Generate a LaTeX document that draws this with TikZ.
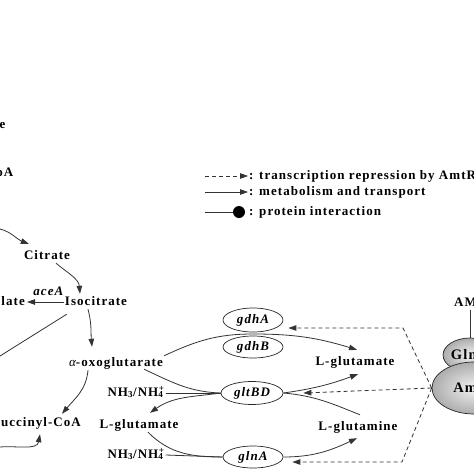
\documentclass[tikz,border=0pt]{standalone}
\usepackage{fontspec}
\setmainfont{Liberation Serif}[LetterSpace=8]
\usetikzlibrary{arrows.meta,shapes.geometric,calc}
\begin{document}
\begin{tikzpicture}[x=1pt,y=-1pt,
  txt/.style={font=\fontsize{13}{15}\selectfont\bfseries, inner sep=1pt, text height=9pt, text depth=3pt},
  lgd/.style={font=\fontsize{13}{15}\selectfont\bfseries, inner sep=1pt, anchor=west, text height=9pt, text depth=3pt},
  gene/.style={ellipse, draw=black!85, line width=0.7pt, fill=white, minimum width=60pt, minimum height=23pt, inner sep=0pt, font=\fontsize{13}{15}\selectfont\bfseries\itshape},
  prot/.style={ellipse, draw=black!85, line width=0.7pt, inner sep=0pt, inner color=gray!10, outer color=gray!65, font=\fontsize{14.5}{16}\selectfont\bfseries},
  conn/.style={draw=black!80, line width=0.8pt},
  arr/.style={conn, -{Triangle[length=8pt,width=5.5pt]}},
  rep/.style={arr, dash pattern=on 4pt off 3pt},
  ]
\useasboundingbox (0,0) rectangle (474,474);

% cut-off words at the left edge
\node[txt, anchor=east] (eTop) at (6.5,125) {e};
\node[txt, anchor=east] (coaTop) at (14.5,173) {CoA};

% legend
\coordinate (l1s) at (205,176);
\coordinate (l2s) at (205,192);
\coordinate (l3s) at (205,212);
\node[lgd] (l1) at (248,176) {: transcription repression by AmtR};
\node[lgd] (l2) at (248,192) {: metabolism and transport};
\node[lgd] (l3) at (248,212) {: protein interaction};
\node[circle, fill=black, inner sep=0pt, minimum size=12pt] (dot) at (239,212) {};
\draw[rep] (l1s) -- (l1.west);
\draw[arr] (l2s) -- (l2.west);
\draw[conn] (l3s) -- (dot);

% TCA side
\node[txt] (cit) at (47,256) {Citrate};
\node[txt] (iso) at (96,302) {Isocitrate};
\node[txt, anchor=east, inner sep=2pt] (gly) at (27,302) {late};
\node[txt] (aoxo) at (116,363) {{\mdseries\itshape α}-oxoglutarate};
\node[txt, anchor=east] (suc) at (82,423) {uccinyl-CoA};
\coordinate (cIn) at (0,229);
\coordinate (cL) at (0,356);
\coordinate (cBot) at (0,447);

\draw[arr] (cIn) to[out=-15,in=160] ($(cit.north west)+(6,-5)$);
\draw[arr] ($(cit.south)+(9,0)$) to[out=-40,in=95] ($(iso.north)+(-16,-1)$);
\draw[arr] (iso.west) -- node[pos=0.42, above=6pt, inner sep=0pt, font=\fontsize{13}{15}\selectfont\bfseries\itshape] (aceA) {aceA} (gly.east);
\draw[arr] ($(iso.south)+(-8,0)$) to[out=-75,in=95] ($(aoxo.north)+(-24,-9)$);
\draw[conn] ($(iso.south west)+(3,5)$) -- (cL);
\draw[arr] ($(aoxo.south)+(-28,0)$) to[out=-95,in=50] ($(suc.north east)+(-20,-2)$);
\draw[arr] (cBot) to[out=5,in=-100] ($(suc.south east)+(-42,4)$);

% nitrogen assimilation
\node[txt] (nh1) at (136,393) {NH\textsubscript{3}/NH\textsubscript{4}\kern-0.35em\textsuperscript{+}};
\node[txt] (gluL) at (139,425) {L-glutamate};
\node[txt] (nh2) at (136,455) {NH\textsubscript{3}/NH\textsubscript{4}\kern-0.35em\textsuperscript{+}};
\node[txt] (gluR) at (355,362) {L-glutamate};
\node[txt] (gln) at (358,427) {L-glutamine};

\node[gene, minimum height=24pt] (gdhA) at (253,320) {gdhA};
\node[gene, minimum height=22pt] (gdhB) at (253,347) {gdhB};
\node[gene, minimum width=62pt] (gltBD) at (252,393) {gltBD};
\node[gene, minimum height=22pt] (glnA) at (253,457) {glnA};
\coordinate (gdhM) at ($(gdhA.south)!0.5!(gdhB.north)$);

\draw[arr] (aoxo.north east) to[out=25,in=180] (gdhM) to[out=0,in=163] ($(gluR.north)+(2,-5)$);
\draw[conn] ($(aoxo.south east)+(-20,-1)$) to[out=-25,in=178] (gltBD.west);
\draw[conn] (nh1.east) -- (gltBD.west);
\draw[arr] (gltBD.west) to[out=188,in=35] ($(gluL.north)+(11,-5)$);
\draw[arr] (gltBD.east) to[out=8,in=200] ($(gluR.south)+(3,5)$);
\draw[conn] (gltBD.east) to[out=-5,in=158] ($(gln.north)+(2,-5)$);
\draw[conn] ($(gluL.south)+(9,0)$) to[out=-45,in=180] (glnA.west);
\draw[conn] (nh2.east) -- (glnA.west);
\draw[arr] (glnA.east) to[out=0,in=-155] ($(gln.south)+(-1,4)$);

% regulators
\node[prot, minimum width=50pt, minimum height=34pt] (glnK) at (470,355) {GlnK};
\node[prot, minimum width=84pt, minimum height=52pt] (amtR) at (474,388) {AmtR};
\node[txt] (amp) at (470,303) {AMP};
\draw[conn] (amp.south) -- (glnK.north);

\coordinate (bA) at (403,328);
\coordinate (bC) at (402,462);
\draw[rep] (amtR.west) -- (bA) -- ($(gdhA.east |- bA)+(5,0)$);
\draw[rep] (amtR.west) -- ($(gltBD.east)+(20,0)$);
\draw[rep] (amtR.west) -- (bC) -- ($(glnA.east |- bC)+(9,0)$);
\end{tikzpicture}
\end{document}
